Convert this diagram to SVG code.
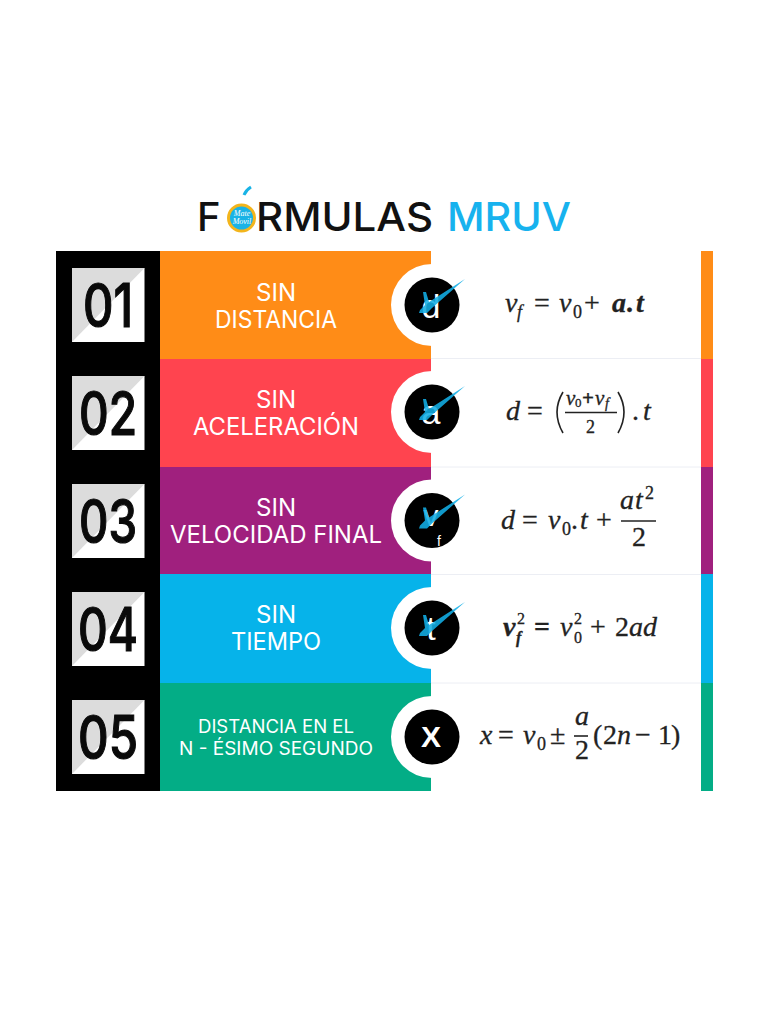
<svg xmlns="http://www.w3.org/2000/svg" width="768" height="1024" viewBox="0 0 768 1024">
<style>
.t{font-family:"Inter","Liberation Sans",sans-serif;fill:#fff;text-anchor:middle;font-size:24px;font-weight:400}
.t5{font-size:18.500px}
.n{font-family:"Inter","Liberation Sans",sans-serif;fill:#0a0a0a;stroke:#0a0a0a;stroke-width:1.2;text-anchor:middle;font-size:60px;font-weight:500}
.v{font-family:"Liberation Sans",sans-serif;fill:#fff;text-anchor:middle;font-size:34px}
.m{font-family:"Liberation Serif",serif;fill:#222;stroke:#222;stroke-width:.3;font-size:28px;font-style:italic}
.r{font-style:normal}
.s{font-size:18px}
.xs{font-size:16px}
.b{font-weight:bold}
.c{fill:#12aee6;fill-opacity:.88}
.l{stroke:#222;stroke-width:1.6;fill:none}
.h{font-family:"Inter","Liberation Sans",sans-serif;font-size:40px;font-weight:500}
</style>
<defs>
<g id="box"><rect x="72" width="72.500" height="74" fill="#fff"/><path d="M72 0H144.500L72 74Z" fill="#dcdcdc"/></g>
<path id="chk" class="c" d="M-9 -13L-6 -13L-3 -3L33 -26L0 3L-5 8L-13 8L-12 5L-7 0Z"/>
</defs>
<rect width="768" height="1024" fill="#fff"/>
<g id="title">
<text class="h" x="197" y="231" fill="#111">F</text>
<text class="h" x="256" y="231" fill="#111" textLength="177" lengthAdjust="spacingAndGlyphs">RMULAS</text>
<text class="h" x="447" y="231" fill="#17b2ee" textLength="124" lengthAdjust="spacingAndGlyphs">MRUV</text>
<circle cx="241.500" cy="218" r="13" fill="#19b3e6" stroke="#f3b51c" stroke-width="3"/>
<path d="M244 195Q246 190 251 187" fill="none" stroke="#19b3e6" stroke-width="3"/>
<text x="242" y="216" font-family="Liberation Serif,serif" font-style="italic" font-size="8" fill="#fff" text-anchor="middle">Mate</text>
<text x="242" y="224" font-family="Liberation Serif,serif" font-style="italic" font-size="8" fill="#fff" text-anchor="middle">Movil</text>
</g>
<rect id="sidebar" x="56" y="251" width="104" height="540" fill="#000"/>
<g id="row1">
<rect x="160" y="251" width="271" height="108" fill="#ff8c17"/><rect x="701" y="251" width="12" height="108" fill="#ff8c17"/>
<use href="#box" y="268"/><text class="n" x="108" y="327" textLength="50" lengthAdjust="spacingAndGlyphs">01</text>
<text class="t" x="276" y="301" textLength="40" lengthAdjust="spacingAndGlyphs">SIN</text><text class="t" x="276" y="328" textLength="122" lengthAdjust="spacingAndGlyphs">DISTANCIA</text>
<circle cx="432" cy="305" r="41" fill="#fff"/><circle cx="432" cy="305" r="27.500" fill="#000"/>
<text class="v" x="431" y="318">d</text><use href="#chk" x="432" y="305"/>
<text class="m" x="505" y="312">v</text><text class="m s" x="517" y="318">f</text><text class="m r" x="534" y="312">=</text><text class="m" x="559" y="312">v</text><text class="m s r" x="573" y="318">0</text><text class="m r" x="584" y="312">+</text><text class="m b" x="612" y="312">a</text><text class="m r b" x="626" y="312">.</text><text class="m b" x="636" y="312">t</text>
</g>
<g id="row2">
<rect x="160" y="359" width="271" height="108" fill="#ff444f"/><rect x="701" y="359" width="12" height="108" fill="#ff444f"/>
<use href="#box" y="376"/><text class="n" x="108" y="435" textLength="58" lengthAdjust="spacingAndGlyphs">02</text>
<text class="t" x="276" y="408" textLength="40" lengthAdjust="spacingAndGlyphs">SIN</text><text class="t" x="276" y="435" textLength="166" lengthAdjust="spacingAndGlyphs">ACELERACIÓN</text>
<circle cx="432" cy="412" r="41" fill="#fff"/><circle cx="432" cy="412" r="27.500" fill="#000"/>
<text class="v" x="431" y="424">a</text><use href="#chk" x="432" y="412"/>
<text class="m" x="506" y="420">d</text><text class="m r" x="527" y="420">=</text>
<path class="l" d="M563 392Q551 412 563 433M618 392Q630 412 618 433"/>
<text class="m" x="566" y="405" style="font-size:21px">v</text><text class="m r" x="575" y="407" style="font-size:13px">0</text><text class="m r b" x="582" y="405" style="font-size:21px">+</text><text class="m" x="595" y="405" style="font-size:21px">v</text><text class="m" x="605" y="408" style="font-size:14px">f</text>
<line class="l" x1="565" y1="412.500" x2="617" y2="412.500"/>
<text class="m r s" x="586" y="433">2</text>
<text class="m r" x="632" y="420">.</text><text class="m" x="643" y="420">t</text>
</g>
<g id="row3">
<rect x="160" y="467" width="271" height="107" fill="#a0207e"/><rect x="701" y="467" width="12" height="107" fill="#a0207e"/>
<use href="#box" y="484"/><text class="n" x="108" y="543" textLength="58" lengthAdjust="spacingAndGlyphs">03</text>
<text class="t" x="276" y="516" textLength="40" lengthAdjust="spacingAndGlyphs">SIN</text><text class="t" x="276" y="543" textLength="212" lengthAdjust="spacingAndGlyphs">VELOCIDAD FINAL</text>
<circle cx="432" cy="520.500" r="41" fill="#fff"/><circle cx="432" cy="520.500" r="27.500" fill="#000"/>
<text class="v" x="431" y="526" style="font-size:30px">v</text><text class="v" x="439" y="546" style="font-size:14px">f</text><use href="#chk" x="432" y="520.500"/>
<text class="m" x="501" y="529">d</text><text class="m r" x="522" y="529">=</text><text class="m" x="548" y="529">v</text><text class="m s r" x="562" y="535">0</text><text class="m r" x="571" y="529">.</text><text class="m" x="580" y="529">t</text><text class="m r" x="596" y="529">+</text>
<text class="m" x="620" y="509">a</text><text class="m" x="635" y="509">t</text><text class="m r s" x="645" y="499">2</text>
<line class="l" x1="621" y1="521" x2="656" y2="521"/>
<text class="m r" x="632" y="546">2</text>
</g>
<g id="row4">
<rect x="160" y="574" width="271" height="109" fill="#06b3ea"/><rect x="701" y="574" width="12" height="109" fill="#06b3ea"/>
<use href="#box" y="592"/><text class="n" x="108" y="651" textLength="60" lengthAdjust="spacingAndGlyphs">04</text>
<text class="t" x="276" y="623" textLength="40" lengthAdjust="spacingAndGlyphs">SIN</text><text class="t" x="276" y="650" textLength="90" lengthAdjust="spacingAndGlyphs">TIEMPO</text>
<circle cx="432" cy="628" r="41" fill="#fff"/><circle cx="432" cy="628" r="27.500" fill="#000"/>
<text class="v" x="431" y="640">t</text><use href="#chk" x="432" y="628"/>
<text class="m b" x="503" y="636">v</text><text class="m r xs" x="517" y="624">2</text><text class="m xs b" x="516" y="643">f</text>
<text class="m r b" x="534" y="636">=</text><text class="m" x="560" y="636">v</text><text class="m r xs" x="574" y="624">2</text><text class="m r xs" x="574" y="643">0</text>
<text class="m r" x="590" y="636">+</text><text class="m r" x="615" y="636">2</text><text class="m" x="629" y="636">a</text><text class="m" x="643" y="636">d</text>
</g>
<g id="row5">
<rect x="160" y="683" width="271" height="108" fill="#03ad86"/><rect x="701" y="683" width="12" height="108" fill="#03ad86"/>
<use href="#box" y="700"/><text class="n" x="108" y="759" textLength="60" lengthAdjust="spacingAndGlyphs">05</text>
<text class="t t5" x="276" y="733" textLength="156" lengthAdjust="spacingAndGlyphs">DISTANCIA EN EL</text><text class="t t5" x="276" y="755" textLength="194" lengthAdjust="spacingAndGlyphs">N - ÉSIMO SEGUNDO</text>
<circle cx="432" cy="737" r="41" fill="#fff"/><circle cx="432" cy="737" r="27.500" fill="#000"/>
<text class="v" x="431" y="747" style="font-size:30px;font-weight:bold">X</text>
<text class="m" x="480" y="744">x</text><text class="m r" x="498" y="744">=</text><text class="m" x="523" y="744">v</text><text class="m s r" x="537" y="750">0</text><text class="m r" x="550" y="744">±</text>
<text class="m" x="575" y="725">a</text><line class="l" x1="574" y1="736" x2="588" y2="736"/><text class="m r" x="575" y="759">2</text>
<text class="m r" x="593" y="744">(</text><text class="m r" x="603" y="744">2</text><text class="m" x="617" y="744">n</text><text class="m r" x="635" y="744">−</text><text class="m r" x="658" y="744">1</text><text class="m r" x="671" y="744">)</text>
</g>
<g id="dividers" stroke="#eceef4" stroke-width="1">
<line x1="431" y1="358.500" x2="701" y2="358.500"/><line x1="431" y1="467" x2="701" y2="467"/><line x1="431" y1="574.500" x2="701" y2="574.500"/><line x1="431" y1="683" x2="701" y2="683"/>
</g>
</svg>
